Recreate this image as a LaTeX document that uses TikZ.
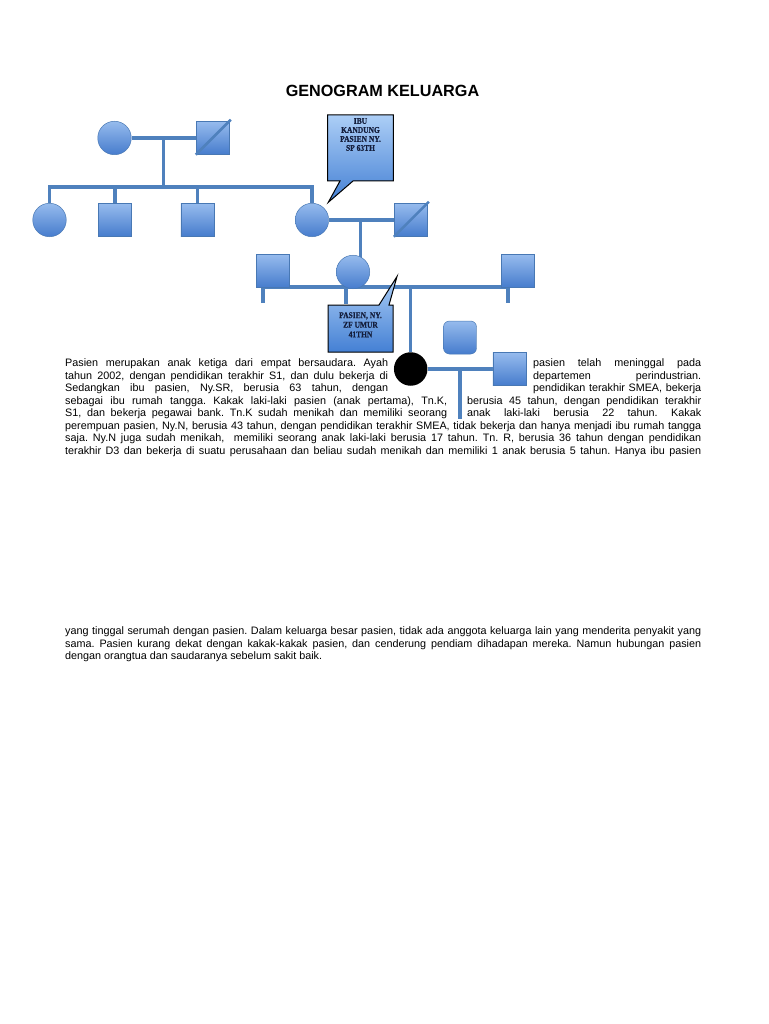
\documentclass[tikz,border=0pt]{standalone}
\usepackage{fontspec}
\setmainfont{Liberation Sans}
\newfontfamily\callfont[FakeStretch=0.85,FakeBold=0.6]{Liberation Serif}
\usetikzlibrary{backgrounds}
\definecolor{lineblue}{RGB}{79,129,189}
\definecolor{shadetop}{RGB}{150,187,237}
\definecolor{shadebot}{RGB}{70,124,205}
\definecolor{edgeblue}{RGB}{72,120,180}
\definecolor{calltop}{RGB}{172,206,246}
\definecolor{callbot}{RGB}{68,128,212}
\definecolor{calltext}{RGB}{20,30,60}
\newcommand\jline[2]{\makebox[#1][s]{#2}}
\frenchspacing
\begin{document}
\begin{tikzpicture}[x=1pt,y=-1pt,
  famline/.style={draw=lineblue, line width=3.5pt},
  fem/.style={circle, minimum size=33.5pt, inner sep=0pt, top color=shadetop, bottom color=shadebot, draw=edgeblue, line width=0.5pt},
  mal/.style={rectangle, minimum size=33pt, inner sep=0pt, top color=shadetop, bottom color=shadebot, draw=edgeblue, line width=0.5pt},
  deadmark/.style={draw=lineblue, line width=2.5pt},
  callbox/.style={top color=calltop, bottom color=callbot, draw=black, line width=1pt, line join=miter},
  calltxt/.style={align=center, text=calltext, inner sep=0pt, font=\callfont\bfseries\fontsize{8.8}{9}\selectfont},
  bodytext/.style={anchor=base west, inner sep=0pt, font=\fontsize{10.8}{12.5}\selectfont},
  titletext/.style={font=\bfseries\fontsize{16.2}{19}\selectfont, inner sep=0pt}]
\useasboundingbox (0,0) rectangle (768,1024);

% title
\node[titletext] (title) at (382.5,91) {GENOGRAM KELUARGA};

% generation 1
\node[fem] (gm) at (114.5,138) {};
\node[mal] (gf) at (212.5,138) {};
\draw[deadmark] (gf.south west) -- ([xshift=1.5pt,yshift=1.5pt]gf.north east);

% generation 2
\node[fem] (c1) at (49.5,220) {};
\node[mal] (b1) at (115,220) {};
\node[mal] (b2) at (197.3,220) {};
\node[fem] (mo) at (312,220) {};
\node[mal] (fa) at (410.7,220) {};
\draw[deadmark] (fa.south west) -- ([xshift=1.5pt,yshift=1.5pt]fa.north east);

% generation 3
\node[mal] (br1) at (272.5,271) {};
\node[fem] (pz) at (353,272) {};
\node[mal] (br2) at (517.5,271) {};
\node[mal, rounded corners=6pt] (rs) at (460,337.5) {};
\node[circle, minimum size=33.5pt, inner sep=0pt, fill=black] (bc) at (410.7,369) {};
\node[mal] (sp) at (509.3,369) {};

% connectors
\coordinate (m1) at (163.5,138);
\coordinate (s1) at (163.5,187);
\coordinate (m2) at (360.7,220);
\coordinate (sl) at (263,287);
\coordinate (sr) at (508,287);
\coordinate (dl) at (263,303);
\coordinate (dr) at (508,303);
\coordinate (dz) at (346,304);
\coordinate (m3) at (460,369);
\coordinate (k1) at (460,419);
\begin{scope}[on background layer]
  \fill[white] (0,0) rectangle (768,1024);
  \draw[famline] (gm) -- (gf);
  \draw[famline] (m1) -- (s1);
  \draw[famline] (c1) |- (s1) -| (mo);
  \draw[famline] (b1) -- (b1 |- s1);
  \draw[famline] (b2) -- (b2 |- s1);
  \draw[famline] (mo) -- (fa);
  \draw[famline] (m2) -- (m2 |- pz);
  \draw[famline] (dl) -- (sl) -- (sr) -- (dr);
  \draw[famline] (dz |- sl) -- (dz);
  \draw[famline] (bc |- sl) -- (bc);
  \draw[famline] (bc) -- (sp);
  \draw[famline] (m3) -- (k1);
\end{scope}

% callouts
\path[callbox] (327.7,115) -- (393.3,115) -- (393.3,181) -- (353,181) -- (328.3,202.3) -- (340,181) -- (327.7,181) -- cycle;
\node[calltxt] (ibu) at (360.5,134.5) {IBU\\KANDUNG\\PASIEN NY.\\SP 63TH};
\path[callbox] (328,305) -- (379,305) -- (397,276.5) -- (389,305) -- (393,305) -- (393,352) -- (328,352) -- cycle;
\node[calltxt, font=\callfont\bfseries\fontsize{8.8}{9.6}\selectfont] (pas) at (360.5,324.8) {PASIEN, NY.\\ZF UMUR\\41THN};

% body text
\node[bodytext] (t1a) at (65,366.5) {\jline{323pt}{Pasien merupakan anak ketiga dari empat bersaudara. Ayah}};
\node[bodytext] (t1b) at (533,366.5) {\jline{168pt}{pasien telah meninggal pada}};
\node[bodytext] (t2a) at (65,379) {\jline{323pt}{tahun 2002, dengan pendidikan terakhir S1, dan dulu bekerja di}};
\node[bodytext] (t2b) at (533,379) {\jline{168pt}{departemen perindustrian.}};
\node[bodytext] (t3a) at (65,391.5) {\jline{323pt}{Sedangkan ibu pasien, Ny.SR, berusia 63 tahun, dengan}};
\node[bodytext] (t3b) at (533,391.5) {\jline{168pt}{pendidikan terakhir SMEA, bekerja}};
\node[bodytext] (t4a) at (65,404) {\jline{382pt}{sebagai ibu rumah tangga. Kakak laki-laki pasien (anak pertama), Tn.K,}};
\node[bodytext] (t4b) at (467,404) {\jline{234pt}{berusia 45 tahun, dengan pendidikan terakhir}};
\node[bodytext] (t5a) at (65,416.5) {\jline{382pt}{S1, dan bekerja pegawai bank. Tn.K sudah menikah dan memiliki seorang}};
\node[bodytext] (t5b) at (467,416.5) {\jline{234pt}{anak laki-laki berusia 22 tahun. Kakak}};
\node[bodytext] (t6) at (65,429) {\jline{636pt}{perempuan pasien, Ny.N, berusia 43 tahun, dengan pendidikan terakhir SMEA, tidak bekerja dan hanya menjadi ibu rumah tangga}};
\node[bodytext] (t7) at (65,441.5) {\jline{636pt}{saja. Ny.N juga sudah menikah,\ \ memiliki seorang anak laki-laki berusia 17 tahun. Tn. R, berusia 36 tahun dengan pendidikan}};
\node[bodytext] (t8) at (65,454) {\jline{636pt}{terakhir D3 dan bekerja di suatu perusahaan dan beliau sudah menikah dan memiliki 1 anak berusia 5 tahun. Hanya ibu pasien}};
\node[bodytext] (t9) at (65,634.5) {\jline{636pt}{yang tinggal serumah dengan pasien. Dalam keluarga besar pasien, tidak ada anggota keluarga lain yang menderita penyakit yang}};
\node[bodytext] (t10) at (65,647) {\jline{636pt}{sama. Pasien kurang dekat dengan kakak-kakak pasien, dan cenderung pendiam dihadapan mereka. Namun hubungan pasien}};
\node[bodytext] (t11) at (65,659.5) {dengan orangtua dan saudaranya sebelum sakit baik.};
\end{tikzpicture}
\end{document}
